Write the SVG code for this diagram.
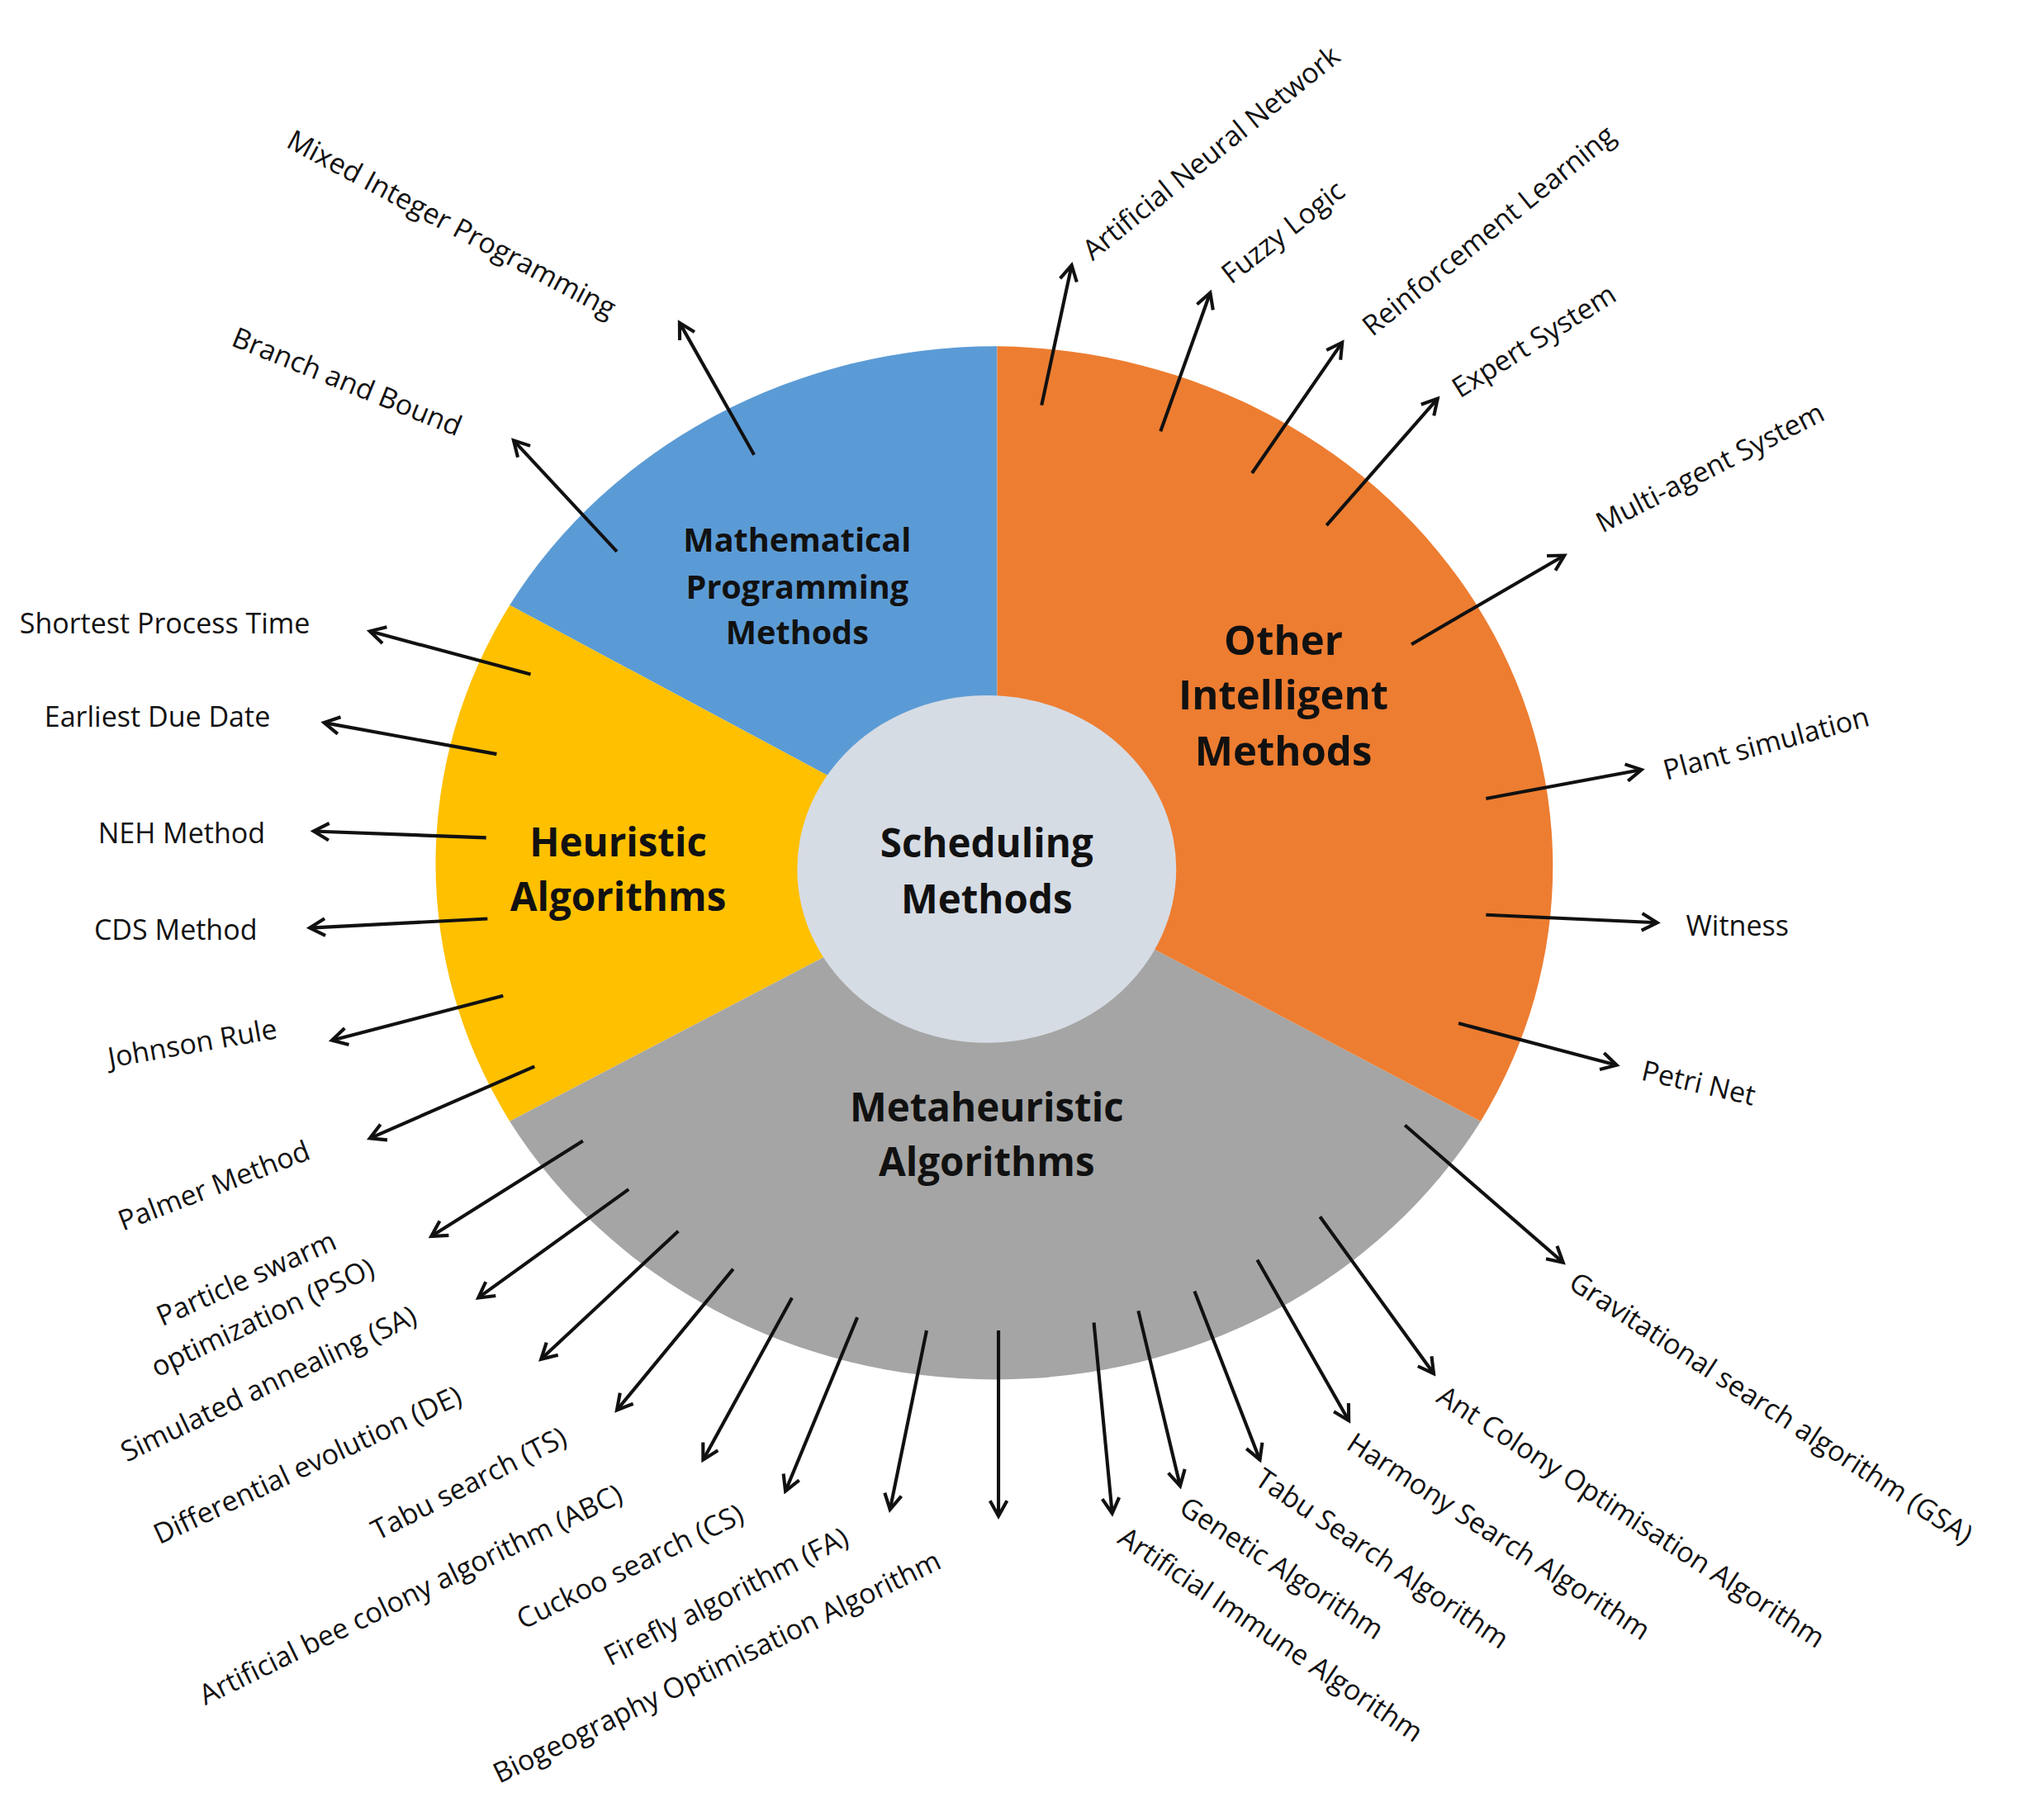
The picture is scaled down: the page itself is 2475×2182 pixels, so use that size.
<svg xmlns="http://www.w3.org/2000/svg" width="2475" height="2182" viewBox="0 0 2475 2182">
<style>
.l{font-family:"Open Sans","Liberation Sans",sans-serif;font-size:21.5px;fill:#111}
.b{font-family:"Open Sans","Liberation Sans",sans-serif;font-weight:bold;fill:#111;text-anchor:middle}
.c line{stroke:#111;stroke-width:2.6;marker-end:url(#a)}
</style>
<defs><marker id="a" viewBox="0 0 12 12" refX="10" refY="6" markerWidth="6" markerHeight="6" orient="auto" markerUnits="strokeWidth"><path d="M1,1 L10,6 L1,11" fill="none" stroke="#111" stroke-width="2"/></marker></defs>
<rect width="2475" height="2182" fill="#fff"/>
<g transform="scale(1.5825)">
<g id="wheel">
<path d="M763,663 L763,265 A430 398 0 0 0 390,463 Z" fill="#5B9BD5"/>
<path d="M763,663 L390,463 A430 398 0 0 0 390,858 Z" fill="#FFC000"/>
<path d="M763,663 L390,858 A430 398 0 0 0 1133,858 Z" fill="#A5A5A5"/>
<path d="M763,663 L763,265 A430 398 0 0 1 1133,858 Z" fill="#ED7D31"/>
<ellipse cx="755" cy="665" rx="145" ry="133" fill="#D6DCE4"/>
</g>
<g id="center"><text class="b" font-size="30"><tspan x="755" y="656">Scheduling</tspan><tspan x="755" y="699">Methods</tspan></text></g>
<g id="math"><text class="b" font-size="25"><tspan x="610" y="422">Mathematical</tspan><tspan x="610" y="458">Programming</tspan><tspan x="610" y="493">Methods</tspan></text></g>
<g id="other"><text class="b" font-size="31"><tspan x="982" y="501">Other</tspan><tspan x="982" y="543">Intelligent</tspan><tspan x="982" y="586">Methods</tspan></text></g>
<g id="heur"><text class="b" font-size="30"><tspan x="473" y="655">Heuristic</tspan><tspan x="473" y="697">Algorithms</tspan></text></g>
<g id="meta"><text class="b" font-size="30"><tspan x="755" y="858">Metaheuristic</tspan><tspan x="755" y="900">Algorithms</tspan></text></g>
<g class="c" id="connectors">
<line x1="577" y1="348" x2="520" y2="247"/><line x1="472" y1="422" x2="393" y2="337"/>
<line x1="406" y1="516" x2="283" y2="483"/><line x1="380" y1="577" x2="248" y2="553"/>
<line x1="372" y1="641" x2="240" y2="636"/><line x1="373" y1="703" x2="237" y2="710"/>
<line x1="385" y1="762" x2="254" y2="796"/><line x1="409" y1="816" x2="283" y2="871"/>
<line x1="446" y1="873" x2="330" y2="946"/><line x1="481" y1="910" x2="366" y2="993"/>
<line x1="519" y1="942" x2="414" y2="1040"/><line x1="561" y1="971" x2="472" y2="1079"/>
<line x1="606" y1="993" x2="538" y2="1117"/><line x1="656" y1="1008" x2="601" y2="1141"/>
<line x1="709" y1="1018" x2="681" y2="1155"/><line x1="764" y1="1018" x2="764" y2="1160"/>
<line x1="837" y1="1012" x2="851" y2="1158"/><line x1="871" y1="1003" x2="903" y2="1137"/>
<line x1="914" y1="988" x2="964" y2="1117"/><line x1="962" y1="964" x2="1032" y2="1087"/>
<line x1="1010" y1="931" x2="1097" y2="1051"/><line x1="1075" y1="861" x2="1196" y2="966"/>
<line x1="797" y1="310" x2="820" y2="203"/><line x1="888" y1="330" x2="926" y2="224"/>
<line x1="958" y1="362" x2="1027" y2="262"/><line x1="1015" y1="402" x2="1100" y2="305"/>
<line x1="1080" y1="493" x2="1197" y2="425"/><line x1="1137" y1="611" x2="1256" y2="589"/>
<line x1="1137" y1="700" x2="1268" y2="706"/><line x1="1116" y1="783" x2="1237" y2="815"/>
</g>
<g id="labels">
<text class="l" transform="translate(218,112) rotate(28)">Mixed Integer Programming</text>
<text class="l" transform="translate(176,264) rotate(22)">Branch and Bound</text>
<text class="l" x="15" y="485">Shortest Process Time</text>
<text class="l" x="34" y="556">Earliest Due Date</text>
<text class="l" x="75" y="645">NEH Method</text>
<text class="l" x="72" y="719">CDS Method</text>
<text class="l" transform="translate(84,817) rotate(-10)">Johnson Rule</text>
<text class="l" transform="translate(94,942) rotate(-21)">Palmer Method</text>
<text class="l" transform="translate(124,1015) rotate(-24)">Particle swarm</text>
<text class="l" transform="translate(120,1054) rotate(-25)">optimization (PSO)</text>
<text class="l" transform="translate(97,1119) rotate(-25.6)">Simulated annealing (SA)</text>
<text class="l" transform="translate(122,1182) rotate(-25)">Differential evolution (DE)</text>
<text class="l" transform="translate(289,1179) rotate(-27)">Tabu search (TS)</text>
<text class="l" transform="translate(157,1305) rotate(-26)">Artificial bee colony algorithm (ABC)</text>
<text class="l" transform="translate(400,1247) rotate(-26)">Cuckoo search (CS)</text>
<text class="l" transform="translate(467,1275) rotate(-27)">Firefly algorithm (FA)</text>
<text class="l" transform="translate(382,1365) rotate(-26)">Biogeography Optimisation Algorithm</text>
<text class="l" transform="translate(854,1180) rotate(34)">Artificial Immune Algorithm</text>
<text class="l" transform="translate(901,1157) rotate(33)">Genetic Algorithm</text>
<text class="l" transform="translate(959,1135) rotate(34)">Tabu Search Algorithm</text>
<text class="l" transform="translate(1029,1108) rotate(33)">Harmony Search Algorithm</text>
<text class="l" transform="translate(1098,1072) rotate(33)">Ant Colony Optimisation Algorithm</text>
<text class="l" transform="translate(1199,985) rotate(33)">Gravitational search algorithm (GSA)</text>
<text class="l" transform="translate(836,200) rotate(-39)">Artificial Neural Network</text>
<text class="l" transform="translate(942,218) rotate(-38)">Fuzzy Logic</text>
<text class="l" transform="translate(1050,258) rotate(-39)">Reinforcement Learning</text>
<text class="l" transform="translate(1117,305) rotate(-32)">Expert System</text>
<text class="l" transform="translate(1226,408) rotate(-27)">Multi-agent System</text>
<text class="l" transform="translate(1275,597) rotate(-15)">Plant simulation</text>
<text class="l" x="1290" y="716">Witness</text>
<text class="l" transform="translate(1255,826) rotate(13)">Petri Net</text>
</g>
</g>
</svg>
